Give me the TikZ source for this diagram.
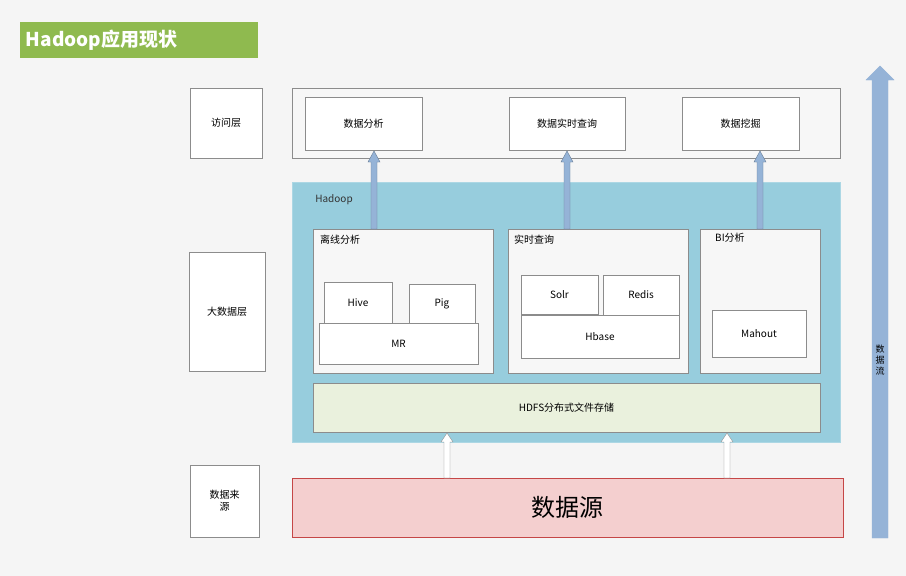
\documentclass[tikz,border=0pt]{standalone}
\usepackage{fontspec}
\setmainfont{Noto Sans CJK SC}
\usetikzlibrary{arrows.meta}
\definecolor{ttl}{HTML}{8FBA4F}
\definecolor{hb}{HTML}{97CDDD}
\definecolor{hd}{HTML}{EAF1DD}
\definecolor{ds}{HTML}{F4CFCF}
\definecolor{bl}{HTML}{95B3D7}
\definecolor{bd}{HTML}{8C8C8C}
\begin{document}
\begin{tikzpicture}[x=1pt,y=-1pt,
  box/.style={draw=bd,fill=white,line width=0.8pt,font=\fontsize{10}{12}\selectfont},
  grp/.style={draw=bd,fill=white!97!black,line width=0.8pt},
  upar/.style={draw=bl!70!black,fill=bl,line width=0.4pt}]
\useasboundingbox[fill=white!96!black] (0,0) rectangle (906,576);
\node[fill=ttl,text=white,font=\bfseries\fontsize{19}{22}\selectfont,minimum width=238,minimum height=36,inner sep=0,text width=226,align=left] (title) at (139,40) {Hadoop应用现状};
% left labels
\node[box,minimum width=72,minimum height=70] (l1) at (226,123) {访问层};
\node[box,minimum width=76,minimum height=119] (l2) at (227,312) {大数据层};
\node[box,minimum width=69,minimum height=72,align=center] (l3) at (224.5,501) {数据来\\源};
% access layer
\draw[grp] (292,88) rectangle (840,158);
\node[box,minimum width=117,minimum height=53] (a1) at (363.5,123.5) {数据分析};
\node[box,minimum width=116,minimum height=53] (a2) at (567,123.5) {数据实时查询};
\node[box,minimum width=117,minimum height=53] (a3) at (740.5,123.5) {数据挖掘};
% hadoop
\draw[fill=hb,draw=hb!80!white] (292,182) rectangle (840,442);
\node[font=\fontsize{10}{12}\selectfont,text=black!80] (hl) at (334,200) {Hadoop};
\draw[grp] (313,229) rectangle (493,373);
\node[anchor=north west,font=\fontsize{10}{12}\selectfont,inner sep=2] (g1) at (318,233) {离线分析};
\draw[grp] (508,229) rectangle (688,373);
\node[anchor=north west,font=\fontsize{10}{12}\selectfont,inner sep=2] (g2) at (512,233) {实时查询};
\draw[grp] (700,229) rectangle (820,373);
\node[anchor=north west,font=\fontsize{10}{12}\selectfont,inner sep=2] (g3) at (713,231) {BI分析};
\node[box,minimum width=68,minimum height=41] (hive) at (358,303) {Hive};
\node[box,minimum width=66,minimum height=40] (pig) at (442,304) {Pig};
\node[box,minimum width=159,minimum height=41] (mr) at (398.5,344) {MR};
\node[box,minimum width=77,minimum height=39] (solr) at (559.5,294.5) {Solr};
\node[box,minimum width=76,minimum height=40] (redis) at (641,295) {Redis};
\node[box,minimum width=158,minimum height=43] (hbase) at (600,336.5) {Hbase};
\node[box,minimum width=94,minimum height=47] (mahout) at (759,333.5) {Mahout};
\node[draw=bd,fill=hd,minimum width=507,minimum height=49,font=\fontsize{10}{12}\selectfont] (hdfs) at (566.5,407.5) {HDFS分布式文件存储};
% data source
\node[draw=red!50!bd,fill=ds,minimum width=551,minimum height=59,font=\fontsize{24}{28}\selectfont] (src) at (567.5,507.5) {数据源};
% arrows
\foreach \x/\t in {374/a1,567/a2,760/a3}
  \draw[upar] (\x-3,229) -- (\x-3,162) -- (\x-6,162) -- (\x,151) -- (\x+6,162) -- (\x+3,162) -- (\x+3,229) -- cycle;
\foreach \x in {447,727}
  \draw[draw=bd,fill=white] (\x-3,478) -- (\x-3,442) -- (\x-6,442) -- (\x,433) -- (\x+6,442) -- (\x+3,442) -- (\x+3,478) -- cycle;
\draw[draw=bl,fill=bl] (872,538) -- (872,80) -- (866,80) -- (880,66) -- (894,80) -- (888,80) -- (888,538) -- cycle;
\node[font=\fontsize{9}{11}\selectfont,align=center,inner sep=0] (flow) at (880,360) {数\\据\\流};
\end{tikzpicture}
\end{document}
